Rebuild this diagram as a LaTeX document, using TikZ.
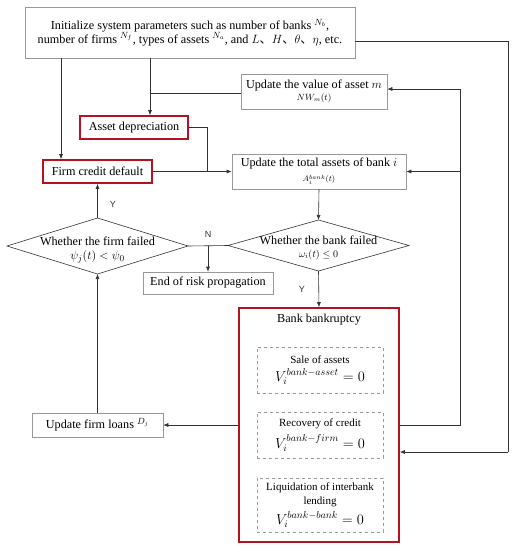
\documentclass[tikz,border=0pt]{standalone}
\usepackage{fontspec}
\setmainfont{Liberation Serif}
\newfontfamily\cjk{Noto Sans CJK SC}
\newfontfamily\sanslbl{Liberation Sans}
\usetikzlibrary{arrows.meta}
\definecolor{boxred}{HTML}{B3121E}
\definecolor{boxgray}{HTML}{999999}
\definecolor{linegray}{HTML}{333333}
\begin{document}
\begin{tikzpicture}[x=1pt,y=-1pt,
  mainfont/.style={font=\fontsize{12.2}{13.5}\selectfont},
  graybox/.style={draw=boxgray,line width=0.6pt,fill=white,inner sep=1pt,align=center,mainfont},
  redbox/.style={draw=boxred,line width=1.6pt,fill=white,inner sep=1pt,align=center,mainfont},
  dashbox/.style={draw=boxgray,dashed,line width=0.6pt,align=center,inner sep=1pt,font=\fontsize{11}{13}\selectfont},
  dia/.style={draw=linegray,line width=0.6pt},
  diatext/.style={align=center,inner sep=0pt,mainfont},
  conn/.style={draw=linegray,line width=0.6pt},
  arr/.style={conn,-{Latex[length=5pt,width=4pt]}},
  yn/.style={font=\sanslbl\fontsize{9}{10}\selectfont,text=linegray}
]
\useasboundingbox (0,0) rectangle (516,550);

\node[graybox,minimum width=330pt,minimum height=51pt] (init) at (190,32.5)
 {Initialize system parameters such as number of banks $^{N_b}$,\\
  number of firms $^{N_f}$, types of assets $^{N_a}$, and $L${\cjk 、}$H${\cjk 、}$\theta${\cjk 、}$\eta$, etc.};
\node[graybox,minimum width=146pt,minimum height=35pt] (upval) at (314,91.5)
 {Update the value of asset $m$\\[-1pt] {\fontsize{9}{9}\selectfont$NW_m(t)$}};
\node[redbox,minimum width=108pt,minimum height=23pt] (dep) at (134,127.5) {Asset depreciation};
\node[redbox,minimum width=109pt,minimum height=23pt] (fcd) at (97.5,171.5) {Firm credit default};
\node[graybox,minimum width=174pt,minimum height=35pt] (uptot) at (319,171.5)
 {Update the total assets of bank $\large i$\\[1.5pt] {\fontsize{8.5}{9}\selectfont$A_i^{bank}(t)$}};

% bank decision diamond
\coordinate (bdiaN) at (318.5,220);
\coordinate (bdiaS) at (318.5,271);
\coordinate (bdiaE) at (409,245.5);
\coordinate (bdiaW) at (228,245.5);
\draw[dia] (bdiaN) -- (bdiaE) -- (bdiaS) -- (bdiaW) -- cycle;
\node[diatext] (bdia) at (318.5,248)
 {Whether the bank failed\\[-1pt] {\fontsize{10}{11}\selectfont$\omega_i(t)\le 0$}};

% firm decision diamond
\coordinate (fdiaN) at (97.5,218);
\coordinate (fdiaS) at (97.5,274);
\coordinate (fdiaE) at (188,246);
\coordinate (fdiaW) at (7,246);
\draw[dia] (fdiaN) -- (fdiaE) -- (fdiaS) -- (fdiaW) -- cycle;
\node[diatext] (fdia) at (97.5,250)
 {Whether the firm failed\\[1pt] {\fontsize{12.5}{13}\selectfont$\psi_j(t)<\psi_0$}};

\node[graybox,minimum width=130pt,minimum height=22pt] (end) at (208,283) {End of risk propagation};
\node[redbox,minimum width=160pt,minimum height=234pt] (bank) at (319,425) {};
\node[mainfont] (banktitle) at (319,320) {Bank bankruptcy};
\node[dashbox,minimum width=126pt,minimum height=46pt] (d1) at (320,370)
 {Sale of assets\\[5pt] {\fontsize{14}{15}\selectfont$V_i^{bank-asset}=0$}};
\node[dashbox,minimum width=126pt,minimum height=46pt] (d2) at (320,435)
 {Recovery of credit\\[5pt] {\fontsize{14}{15}\selectfont$V_i^{bank-firm}=0$}};
\node[dashbox,minimum width=126pt,minimum height=54pt] (d3) at (320,505)
 {Liquidation of interbank\\[1pt] lending\\[4pt] {\fontsize{14}{15}\selectfont$V_i^{bank-bank}=0$}};
\node[graybox,minimum width=131pt,minimum height=24pt] (loans) at (97.5,425)
 {Update firm loans $^{D_j}$};

\coordinate (xL) at (61,0);
\coordinate (xM) at (150,0);
\coordinate (jA) at (150,93);
\coordinate (jB) at (207,127.5);
\coordinate (jB2) at (207,171.5);
\coordinate (nsplit) at (208,245.7);
\coordinate (inA) at (460,425);
\coordinate (inB) at (460,89);
\coordinate (inC) at (460,171.5);
\coordinate (outA) at (508,41);
\coordinate (outB) at (508,452);

\draw[arr] (init.south -| xL) -- (fcd.north -| xL);
\draw[arr] (init.south -| xM) -- (dep.north -| xM);
\draw[conn] (upval.west |- jA) -- (jA);
\draw[conn] (dep.east) -- (jB) -- (jB2);
\draw[arr] (fcd.east) -- (uptot.west);
\draw[arr] (uptot.south) -- (bdiaN);
\draw[conn] (bdiaW) -- (fdiaE);
\draw[arr] (nsplit) -- (end.north);
\node[yn] (nlbl) at (208,234) {N};
\draw[arr] (bdiaS) -- (bank.north);
\node[yn] (ylbl1) at (302,289) {Y};
\draw[arr] (fdiaN) -- (fcd.south);
\node[yn] (ylbl2) at (113,204) {Y};
\draw[arr] (bank.west) -- (loans.east);
\draw[arr] (loans.north) -- (fdiaS);
\draw[conn] (bank.east |- inA) -- (inA) -- (inB);
\draw[arr] (inB) -- (upval.east |- inB);
\draw[arr] (inC) -- (uptot.east);
\draw[conn] (init.east |- outA) -- (outA) -- (outB);
\draw[arr] (outB) -- (bank.east |- outB);
\end{tikzpicture}
\end{document}
